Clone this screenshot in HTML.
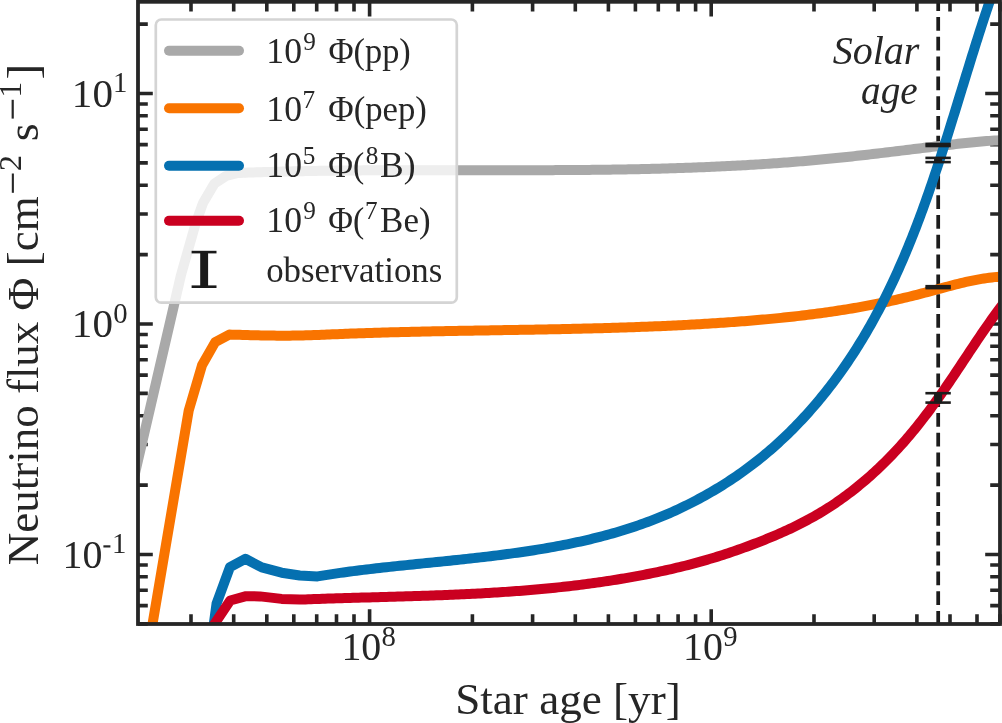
<!DOCTYPE html>
<html><head><meta charset="utf-8"><style>
html,body{margin:0;padding:0;background:#fff;}
svg{display:block;will-change:transform;}
text{font-family:"Liberation Serif",serif;fill:#262626;}
svg text{-webkit-font-smoothing:antialiased;}
</style></head><body>
<svg width="1002" height="723" viewBox="0 0 1002 723">
<defs><clipPath id="ax"><rect x="138" y="1.8" width="862" height="622.2"/></clipPath></defs>

<path d="M191.0,624.0 V614.2 M191.0,1.8 V11.6 M233.7,624.0 V614.2 M233.7,1.8 V11.6 M266.8,624.0 V614.2 M266.8,1.8 V11.6 M293.8,624.0 V614.2 M293.8,1.8 V11.6 M316.7,624.0 V614.2 M316.7,1.8 V11.6 M336.5,624.0 V614.2 M336.5,1.8 V11.6 M354.0,624.0 V614.2 M354.0,1.8 V11.6 M369.6,624.0 V609.2 M369.6,1.8 V16.6 M472.4,624.0 V614.2 M472.4,1.8 V11.6 M532.6,624.0 V614.2 M532.6,1.8 V11.6 M575.3,624.0 V614.2 M575.3,1.8 V11.6 M608.4,624.0 V614.2 M608.4,1.8 V11.6 M635.4,624.0 V614.2 M635.4,1.8 V11.6 M658.3,624.0 V614.2 M658.3,1.8 V11.6 M678.1,624.0 V614.2 M678.1,1.8 V11.6 M695.6,624.0 V614.2 M695.6,1.8 V11.6 M711.2,624.0 V609.2 M711.2,1.8 V16.6 M814.0,624.0 V614.2 M814.0,1.8 V11.6 M874.2,624.0 V614.2 M874.2,1.8 V11.6 M916.9,624.0 V614.2 M916.9,1.8 V11.6 M950.0,624.0 V614.2 M950.0,1.8 V11.6 M977.0,624.0 V614.2 M977.0,1.8 V11.6 M999.9,624.0 V614.2 M999.9,1.8 V11.6 M138.0,623.9 H147.8 M1000.0,623.9 H990.2 M138.0,605.6 H147.8 M1000.0,605.6 H990.2 M138.0,590.2 H147.8 M1000.0,590.2 H990.2 M138.0,576.8 H147.8 M1000.0,576.8 H990.2 M138.0,565.0 H147.8 M1000.0,565.0 H990.2 M138.0,554.5 H152.8 M1000.0,554.5 H985.2 M138.0,485.1 H147.8 M1000.0,485.1 H990.2 M138.0,444.5 H147.8 M1000.0,444.5 H990.2 M138.0,415.7 H147.8 M1000.0,415.7 H990.2 M138.0,393.4 H147.8 M1000.0,393.4 H990.2 M138.0,375.1 H147.8 M1000.0,375.1 H990.2 M138.0,359.7 H147.8 M1000.0,359.7 H990.2 M138.0,346.3 H147.8 M1000.0,346.3 H990.2 M138.0,334.5 H147.8 M1000.0,334.5 H990.2 M138.0,324.0 H152.8 M1000.0,324.0 H985.2 M138.0,254.6 H147.8 M1000.0,254.6 H990.2 M138.0,214.0 H147.8 M1000.0,214.0 H990.2 M138.0,185.2 H147.8 M1000.0,185.2 H990.2 M138.0,162.9 H147.8 M1000.0,162.9 H990.2 M138.0,144.6 H147.8 M1000.0,144.6 H990.2 M138.0,129.2 H147.8 M1000.0,129.2 H990.2 M138.0,115.8 H147.8 M1000.0,115.8 H990.2 M138.0,104.0 H147.8 M1000.0,104.0 H990.2 M138.0,93.5 H152.8 M1000.0,93.5 H985.2 M138.0,24.1 H147.8 M1000.0,24.1 H990.2" stroke="#262626" stroke-width="3.6" fill="none"/>
<g clip-path="url(#ax)" fill="none" stroke-linejoin="round">
<path d="M938.2,624.8 L938.2,0" stroke="#1c1c1c" stroke-width="3.74" stroke-dasharray="13.8 6.0"/>
<path d="M94.0,650.0 L181.0,275.0 L195.5,224.0 L203.0,203.0 L214.4,183.6 L226.0,176.0 L238.0,173.0 L240.60,172.90 L243.20,172.80 L245.81,172.71 L248.41,172.61 L251.01,172.52 L253.61,172.44 L256.22,172.35 L258.82,172.26 L261.42,172.18 L264.03,172.10 L266.63,172.03 L269.23,171.95 L271.83,171.88 L274.44,171.80 L277.04,171.73 L279.64,171.67 L282.25,171.60 L284.85,171.54 L287.45,171.47 L290.06,171.41 L292.66,171.36 L295.26,171.30 L297.87,171.24 L300.47,171.19 L303.07,171.14 L305.68,171.09 L308.28,171.04 L310.88,171.00 L313.49,170.95 L316.09,170.91 L318.69,170.87 L321.30,170.83 L323.90,170.79 L326.51,170.75 L329.11,170.71 L331.71,170.68 L334.32,170.65 L336.92,170.61 L339.52,170.58 L342.13,170.56 L344.73,170.53 L347.34,170.50 L349.94,170.48 L352.54,170.45 L355.15,170.43 L357.75,170.41 L360.35,170.39 L362.96,170.37 L365.56,170.35 L368.17,170.33 L370.77,170.32 L373.37,170.30 L375.98,170.29 L378.58,170.27 L381.19,170.26 L383.79,170.25 L386.39,170.24 L389.00,170.23 L391.60,170.22 L394.21,170.21 L396.81,170.20 L399.41,170.20 L402.02,170.19 L404.62,170.19 L407.23,170.18 L409.83,170.18 L412.43,170.17 L415.04,170.17 L417.64,170.17 L420.25,170.17 L422.85,170.16 L425.46,170.16 L428.06,170.16 L430.66,170.16 L433.27,170.16 L435.87,170.16 L438.48,170.16 L441.08,170.17 L443.68,170.17 L446.29,170.17 L448.89,170.17 L451.50,170.17 L454.10,170.18 L456.70,170.18 L459.31,170.18 L461.91,170.18 L464.51,170.19 L467.12,170.19 L469.72,170.19 L472.33,170.19 L474.93,170.20 L477.53,170.20 L480.14,170.20 L482.74,170.20 L485.35,170.21 L487.95,170.21 L490.55,170.21 L493.16,170.21 L495.76,170.21 L498.36,170.22 L500.97,170.22 L503.57,170.22 L506.17,170.22 L508.78,170.22 L511.38,170.22 L513.98,170.22 L516.59,170.21 L519.19,170.21 L521.79,170.21 L524.40,170.21 L527.00,170.20 L529.60,170.20 L532.21,170.19 L534.81,170.19 L537.41,170.18 L540.02,170.18 L542.62,170.17 L545.22,170.16 L547.83,170.15 L550.43,170.14 L553.03,170.13 L555.64,170.12 L558.24,170.11 L560.84,170.09 L563.44,170.08 L566.05,170.06 L568.65,170.05 L571.25,170.03 L573.85,170.01 L576.46,169.99 L579.06,169.97 L581.66,169.95 L584.26,169.93 L586.87,169.90 L589.47,169.88 L592.07,169.85 L594.67,169.82 L597.28,169.79 L599.88,169.76 L602.48,169.73 L605.08,169.70 L607.68,169.66 L610.29,169.63 L612.89,169.59 L615.49,169.55 L618.09,169.51 L620.69,169.47 L623.29,169.42 L625.90,169.38 L628.50,169.33 L631.10,169.28 L633.70,169.23 L636.30,169.18 L638.90,169.13 L641.50,169.07 L644.10,169.02 L646.70,168.96 L649.31,168.90 L651.91,168.84 L654.51,168.77 L657.11,168.71 L659.71,168.64 L662.31,168.57 L664.91,168.50 L667.51,168.42 L670.11,168.35 L672.71,168.27 L675.31,168.19 L677.91,168.11 L680.51,168.02 L683.11,167.94 L685.71,167.85 L688.31,167.76 L690.91,167.66 L693.51,167.57 L696.11,167.47 L698.71,167.37 L701.31,167.27 L703.91,167.16 L706.51,167.06 L709.11,166.95 L711.71,166.83 L714.30,166.72 L716.90,166.60 L719.50,166.48 L722.10,166.36 L724.70,166.24 L727.30,166.11 L729.90,165.98 L732.49,165.85 L735.09,165.71 L737.69,165.57 L740.29,165.43 L742.89,165.29 L745.48,165.14 L748.08,164.99 L750.68,164.84 L753.28,164.68 L755.88,164.53 L758.47,164.37 L761.07,164.20 L763.67,164.04 L766.26,163.87 L768.86,163.69 L771.46,163.52 L774.05,163.34 L776.65,163.16 L779.25,162.97 L781.84,162.78 L784.44,162.59 L787.04,162.40 L789.63,162.20 L792.23,162.00 L794.82,161.79 L797.42,161.58 L800.02,161.37 L802.61,161.16 L805.21,160.94 L807.80,160.72 L810.40,160.49 L812.99,160.26 L815.59,160.03 L818.18,159.80 L820.78,159.56 L823.37,159.31 L825.97,159.07 L828.56,158.82 L831.16,158.56 L833.75,158.31 L836.34,158.04 L838.94,157.78 L841.53,157.51 L844.13,157.24 L846.72,156.96 L849.31,156.69 L851.91,156.41 L854.50,156.12 L857.09,155.83 L859.68,155.54 L862.28,155.25 L864.87,154.96 L867.46,154.66 L870.05,154.36 L872.65,154.06 L875.24,153.76 L877.83,153.45 L880.42,153.15 L883.01,152.84 L885.61,152.53 L888.20,152.22 L890.79,151.91 L893.38,151.60 L895.97,151.28 L898.56,150.97 L901.15,150.65 L903.74,150.34 L906.33,150.02 L908.92,149.71 L911.51,149.39 L914.10,149.08 L916.69,148.76 L919.28,148.45 L921.87,148.13 L924.46,147.82 L927.05,147.50 L929.64,147.19 L932.23,146.88 L934.82,146.57 L937.41,146.26 L940.00,145.95 L942.59,145.64 L945.17,145.34 L947.76,145.03 L950.35,144.73 L952.94,144.43 L955.52,144.13 L958.11,143.84 L960.70,143.55 L963.29,143.26 L965.87,142.98 L968.46,142.71 L971.05,142.44 L973.63,142.18 L976.22,141.93 L978.81,141.70 L981.39,141.47 L983.98,141.26 L986.56,141.06 L989.15,140.87 L991.73,140.70 L994.32,140.55 L996.90,140.41 L999.49,140.29 L1002.07,140.19 L1004.66,140.10 L1007.24,140.04 L1009.83,140.00 L1012.41,139.99 L1015.00,139.99" stroke="#a9a9a9" stroke-width="10"/>
<path d="M148.1,650.0 L188.7,410.6 L202.0,365.3 L215.2,342.1 L229.3,334.6 L231.94,334.66 L234.57,334.72 L237.20,334.79 L239.84,334.86 L242.47,334.93 L245.11,335.00 L247.75,335.07 L250.38,335.14 L253.02,335.21 L255.65,335.27 L258.29,335.34 L260.93,335.39 L263.57,335.45 L266.20,335.50 L268.84,335.54 L271.48,335.58 L274.12,335.61 L276.76,335.64 L279.40,335.66 L282.04,335.67 L284.67,335.67 L287.31,335.66 L289.95,335.65 L292.59,335.62 L295.23,335.58 L297.87,335.54 L300.52,335.48 L303.16,335.41 L305.80,335.34 L308.44,335.26 L311.08,335.18 L313.72,335.09 L316.36,334.99 L319.01,334.89 L321.65,334.79 L324.29,334.68 L326.93,334.58 L329.58,334.47 L332.22,334.36 L334.86,334.25 L337.50,334.14 L340.15,334.03 L342.79,333.93 L345.44,333.82 L348.08,333.72 L350.72,333.62 L353.37,333.53 L356.01,333.43 L358.66,333.34 L361.30,333.25 L363.95,333.16 L366.59,333.07 L369.23,332.98 L371.88,332.90 L374.53,332.82 L377.17,332.74 L379.82,332.66 L382.46,332.58 L385.11,332.50 L387.75,332.43 L390.40,332.36 L393.04,332.29 L395.69,332.22 L398.34,332.15 L400.98,332.08 L403.63,332.01 L406.27,331.95 L408.92,331.89 L411.57,331.82 L414.21,331.76 L416.86,331.70 L419.51,331.64 L422.15,331.59 L424.80,331.53 L427.45,331.47 L430.09,331.42 L432.74,331.37 L435.39,331.31 L438.03,331.26 L440.68,331.21 L443.33,331.16 L445.98,331.11 L448.62,331.06 L451.27,331.01 L453.92,330.96 L456.56,330.92 L459.21,330.87 L461.86,330.82 L464.50,330.78 L467.15,330.73 L469.80,330.69 L472.45,330.64 L475.09,330.60 L477.74,330.55 L480.39,330.51 L483.03,330.47 L485.68,330.42 L488.33,330.38 L490.97,330.34 L493.62,330.29 L496.27,330.25 L498.91,330.21 L501.56,330.16 L504.21,330.12 L506.85,330.08 L509.50,330.04 L512.15,329.99 L514.79,329.95 L517.44,329.90 L520.09,329.86 L522.73,329.81 L525.38,329.77 L528.02,329.72 L530.67,329.68 L533.32,329.63 L535.96,329.59 L538.61,329.54 L541.25,329.49 L543.90,329.44 L546.54,329.39 L549.19,329.34 L551.83,329.29 L554.48,329.24 L557.12,329.19 L559.77,329.13 L562.41,329.08 L565.06,329.03 L567.70,328.97 L570.34,328.91 L572.99,328.85 L575.63,328.80 L578.28,328.74 L580.92,328.67 L583.56,328.61 L586.21,328.55 L588.85,328.48 L591.49,328.42 L594.14,328.35 L596.78,328.28 L599.42,328.21 L602.06,328.14 L604.70,328.07 L607.35,327.99 L609.99,327.92 L612.63,327.84 L615.27,327.76 L617.91,327.68 L620.55,327.59 L623.19,327.51 L625.83,327.42 L628.47,327.34 L631.11,327.25 L633.75,327.16 L636.39,327.06 L639.03,326.97 L641.67,326.87 L644.31,326.77 L646.95,326.67 L649.59,326.56 L652.23,326.46 L654.86,326.35 L657.50,326.24 L660.14,326.13 L662.78,326.01 L665.41,325.90 L668.05,325.78 L670.69,325.66 L673.32,325.53 L675.96,325.41 L678.59,325.28 L681.23,325.15 L683.86,325.01 L686.50,324.88 L689.13,324.74 L691.77,324.60 L694.40,324.45 L697.03,324.30 L699.67,324.15 L702.30,324.00 L704.93,323.84 L707.56,323.69 L710.20,323.52 L712.83,323.36 L715.46,323.19 L718.09,323.02 L720.72,322.85 L723.35,322.67 L725.98,322.49 L728.61,322.31 L731.24,322.12 L733.87,321.93 L736.50,321.74 L739.13,321.54 L741.75,321.34 L744.38,321.14 L747.01,320.93 L749.64,320.72 L752.26,320.51 L754.89,320.29 L757.51,320.06 L760.14,319.84 L762.76,319.60 L765.39,319.37 L768.01,319.13 L770.64,318.88 L773.26,318.63 L775.88,318.38 L778.50,318.12 L781.13,317.85 L783.75,317.58 L786.37,317.31 L788.99,317.03 L791.61,316.74 L794.23,316.45 L796.85,316.15 L799.47,315.85 L802.09,315.54 L804.70,315.23 L807.32,314.91 L809.94,314.58 L812.56,314.25 L815.17,313.91 L817.79,313.56 L820.40,313.21 L823.02,312.85 L825.63,312.49 L828.25,312.12 L830.86,311.74 L833.47,311.35 L836.09,310.96 L838.70,310.56 L841.31,310.16 L843.92,309.74 L846.53,309.32 L849.14,308.89 L851.75,308.46 L854.36,308.01 L856.97,307.56 L859.58,307.10 L862.18,306.63 L864.79,306.16 L867.40,305.67 L870.00,305.18 L872.61,304.68 L875.21,304.17 L877.82,303.65 L880.42,303.13 L883.03,302.59 L885.63,302.05 L888.23,301.49 L890.83,300.93 L893.43,300.36 L896.03,299.78 L898.63,299.19 L901.23,298.59 L903.83,297.98 L906.43,297.37 L909.03,296.74 L911.62,296.10 L914.22,295.45 L916.82,294.80 L919.41,294.13 L922.01,293.45 L924.60,292.77 L927.19,292.07 L929.79,291.37 L932.38,290.67 L934.97,289.97 L937.56,289.26 L940.15,288.56 L942.74,287.86 L945.33,287.16 L947.92,286.47 L950.51,285.79 L953.10,285.12 L955.68,284.46 L958.27,283.82 L960.85,283.19 L963.44,282.57 L966.02,281.98 L968.61,281.40 L971.19,280.85 L973.77,280.32 L976.35,279.82 L978.93,279.34 L981.51,278.90 L984.09,278.48 L986.67,278.10 L989.25,277.75 L991.83,277.43 L994.40,277.15 L996.98,276.92 L999.55,276.72 L1002.13,276.57 L1004.70,276.46 L1007.27,276.39 L1009.85,276.38 L1012.42,276.41 L1014.99,276.50" stroke="#f97400" stroke-width="10"/>
<path d="M211.0,650.0 L213.8,624.0 L216.5,603.8 L230.0,567.1 L245.3,558.8 L261.8,567.4 L281.6,572.7 L299.8,575.5 L317.5,576.4 L320.73,575.86 L323.95,575.34 L327.18,574.83 L330.42,574.34 L333.66,573.85 L336.91,573.38 L340.17,572.91 L343.43,572.46 L346.70,572.01 L349.97,571.57 L353.25,571.14 L356.54,570.72 L359.83,570.31 L363.12,569.90 L366.42,569.50 L369.73,569.10 L373.04,568.72 L376.35,568.33 L379.67,567.96 L382.99,567.59 L386.31,567.22 L389.64,566.86 L392.97,566.50 L396.31,566.14 L399.65,565.79 L402.99,565.44 L406.34,565.10 L409.68,564.75 L413.03,564.41 L416.39,564.07 L419.74,563.73 L423.10,563.39 L426.46,563.05 L429.82,562.71 L433.18,562.37 L436.55,562.03 L439.91,561.69 L443.28,561.35 L446.64,561.00 L450.01,560.66 L453.38,560.31 L456.75,559.96 L460.12,559.60 L463.49,559.24 L466.86,558.88 L470.23,558.51 L473.60,558.14 L476.97,557.76 L480.34,557.37 L483.71,556.99 L487.07,556.59 L490.44,556.19 L493.80,555.78 L497.17,555.36 L500.53,554.94 L503.89,554.51 L507.25,554.07 L510.60,553.62 L513.95,553.16 L517.31,552.69 L520.65,552.21 L524.00,551.73 L527.34,551.23 L530.68,550.72 L534.02,550.20 L537.35,549.66 L540.68,549.12 L544.01,548.56 L547.33,547.99 L550.65,547.41 L553.97,546.81 L557.28,546.20 L560.58,545.58 L563.88,544.94 L567.18,544.29 L570.47,543.62 L573.76,542.93 L577.04,542.23 L580.31,541.51 L583.58,540.78 L586.85,540.03 L590.11,539.26 L593.36,538.47 L596.61,537.67 L599.85,536.84 L603.08,536.00 L606.31,535.14 L609.53,534.26 L612.74,533.36 L615.94,532.43 L619.14,531.49 L622.33,530.53 L625.52,529.54 L628.69,528.53 L631.86,527.50 L635.02,526.45 L638.17,525.38 L641.31,524.28 L644.44,523.16 L647.57,522.01 L650.68,520.84 L653.79,519.65 L656.89,518.43 L659.98,517.18 L663.06,515.91 L666.12,514.62 L669.18,513.30 L672.23,511.96 L675.27,510.59 L678.29,509.20 L681.31,507.78 L684.31,506.34 L687.30,504.87 L690.28,503.38 L693.25,501.87 L696.20,500.33 L699.15,498.77 L702.08,497.18 L704.99,495.57 L707.90,493.94 L710.79,492.28 L713.66,490.60 L716.52,488.90 L719.37,487.17 L722.21,485.41 L725.03,483.64 L727.83,481.84 L730.62,480.01 L733.39,478.16 L736.15,476.29 L738.89,474.40 L741.62,472.48 L744.33,470.54 L747.02,468.57 L749.70,466.58 L752.36,464.57 L755.00,462.54 L757.63,460.48 L760.23,458.40 L762.82,456.30 L765.39,454.17 L767.95,452.02 L770.48,449.85 L773.00,447.65 L775.50,445.44 L777.98,443.20 L780.44,440.94 L782.89,438.66 L785.31,436.36 L787.72,434.04 L790.11,431.70 L792.48,429.34 L794.84,426.97 L797.17,424.57 L799.49,422.15 L801.79,419.72 L804.06,417.26 L806.33,414.79 L808.57,412.30 L810.79,409.80 L813.00,407.28 L815.19,404.74 L817.35,402.18 L819.50,399.61 L821.63,397.02 L823.75,394.42 L825.84,391.80 L827.92,389.17 L829.97,386.52 L832.01,383.86 L834.03,381.19 L836.03,378.50 L838.01,375.79 L839.98,373.08 L841.92,370.35 L843.84,367.61 L845.75,364.86 L847.64,362.09 L849.51,359.32 L851.36,356.53 L853.19,353.73 L855.00,350.92 L856.79,348.10 L858.57,345.27 L860.32,342.43 L862.06,339.58 L863.78,336.72 L865.49,333.85 L867.17,330.96 L868.84,328.07 L870.50,325.17 L872.13,322.26 L873.75,319.34 L875.36,316.41 L876.94,313.48 L878.52,310.53 L880.07,307.57 L881.61,304.61 L883.14,301.64 L884.65,298.65 L886.14,295.67 L887.62,292.67 L889.09,289.66 L890.54,286.65 L891.98,283.63 L893.40,280.60 L894.81,277.57 L896.20,274.52 L897.59,271.47 L898.96,268.42 L900.31,265.35 L901.66,262.28 L902.99,259.21 L904.31,256.13 L905.61,253.04 L906.91,249.94 L908.19,246.84 L909.46,243.73 L910.72,240.62 L911.97,237.50 L913.21,234.38 L914.44,231.25 L915.66,228.12 L916.86,224.98 L918.06,221.84 L919.25,218.69 L920.42,215.54 L921.59,212.38 L922.75,209.22 L923.90,206.06 L925.04,202.89 L926.17,199.71 L927.30,196.54 L928.41,193.36 L929.52,190.18 L930.62,186.99 L931.72,183.80 L932.80,180.61 L933.88,177.41 L934.96,174.22 L936.02,171.02 L937.09,167.81 L938.14,164.61 L939.19,161.40 L940.24,158.19 L941.28,154.98 L942.31,151.77 L943.34,148.56 L944.37,145.34 L945.39,142.13 L946.41,138.91 L947.43,135.69 L948.44,132.47 L949.45,129.25 L950.45,126.03 L951.45,122.81 L952.45,119.59 L953.45,116.37 L954.45,113.15 L955.44,109.93 L956.43,106.71 L957.42,103.49 L958.41,100.27 L959.40,97.05 L960.39,93.84 L961.37,90.62 L962.36,87.40 L963.34,84.19 L964.33,80.98 L965.32,77.77 L966.30,74.56 L967.29,71.35 L968.28,68.15 L969.27,64.95 L970.26,61.75 L971.25,58.55 L972.24,55.35 L973.24,52.16 L974.24,48.97 L975.24,45.78 L976.24,42.60 L977.25,39.42 L978.26,36.24 L979.27,33.07 L980.29,29.90 L981.31,26.74 L982.33,23.58 L983.36,20.42 L984.39,17.27 L985.43,14.12 L986.47,10.98 L987.52,7.84 L988.57,4.70 L989.63,1.58 L990.69,-1.55 L991.76,-4.67 L992.84,-7.78 L993.92,-10.88 L995.01,-13.99" stroke="#0570b0" stroke-width="10"/>
<path d="M197.0,650.0 L216.1,621.5 L230.2,600.5 L246.1,596.2 L260.0,596.4 L281.6,598.9 L299.8,599.6 L302.61,599.49 L305.42,599.39 L308.23,599.28 L311.04,599.18 L313.85,599.08 L316.65,598.98 L319.46,598.89 L322.26,598.79 L325.06,598.70 L327.87,598.61 L330.67,598.52 L333.46,598.43 L336.26,598.35 L339.06,598.26 L341.85,598.18 L344.65,598.09 L347.44,598.01 L350.23,597.93 L353.02,597.85 L355.81,597.77 L358.60,597.69 L361.39,597.62 L364.18,597.54 L366.96,597.46 L369.75,597.39 L372.53,597.31 L375.31,597.23 L378.10,597.15 L380.88,597.08 L383.66,597.00 L386.44,596.92 L389.22,596.84 L392.00,596.77 L394.77,596.69 L397.55,596.61 L400.33,596.53 L403.10,596.44 L405.87,596.36 L408.65,596.28 L411.42,596.19 L414.19,596.11 L416.97,596.02 L419.74,595.93 L422.51,595.84 L425.28,595.75 L428.05,595.65 L430.82,595.56 L433.58,595.46 L436.35,595.36 L439.12,595.25 L441.89,595.15 L444.65,595.04 L447.42,594.93 L450.19,594.82 L452.95,594.70 L455.72,594.59 L458.48,594.47 L461.25,594.34 L464.01,594.22 L466.77,594.09 L469.54,593.95 L472.30,593.82 L475.06,593.68 L477.83,593.53 L480.59,593.39 L483.35,593.24 L486.11,593.08 L488.88,592.92 L491.64,592.76 L494.40,592.59 L497.16,592.42 L499.92,592.25 L502.68,592.07 L505.45,591.88 L508.21,591.69 L510.97,591.50 L513.73,591.30 L516.49,591.10 L519.26,590.89 L522.02,590.68 L524.78,590.46 L527.54,590.23 L530.30,590.00 L533.07,589.77 L535.83,589.53 L538.59,589.28 L541.36,589.03 L544.12,588.77 L546.88,588.51 L549.65,588.24 L552.41,587.96 L555.18,587.68 L557.94,587.39 L560.71,587.10 L563.47,586.80 L566.24,586.49 L569.00,586.17 L571.77,585.85 L574.54,585.52 L577.31,585.19 L580.07,584.85 L582.84,584.50 L585.61,584.14 L588.38,583.77 L591.15,583.40 L593.92,583.02 L596.69,582.63 L599.47,582.24 L602.24,581.83 L605.01,581.42 L607.79,581.00 L610.56,580.58 L613.33,580.14 L616.11,579.70 L618.88,579.24 L621.66,578.78 L624.43,578.32 L627.20,577.84 L629.97,577.35 L632.74,576.86 L635.51,576.36 L638.28,575.85 L641.05,575.33 L643.82,574.80 L646.58,574.26 L649.34,573.72 L652.10,573.16 L654.86,572.60 L657.62,572.03 L660.38,571.44 L663.13,570.85 L665.88,570.25 L668.63,569.64 L671.37,569.02 L674.11,568.38 L676.85,567.74 L679.59,567.08 L682.32,566.42 L685.05,565.74 L687.78,565.05 L690.50,564.34 L693.22,563.63 L695.93,562.90 L698.64,562.16 L701.35,561.40 L704.05,560.63 L706.75,559.85 L709.44,559.06 L712.13,558.25 L714.81,557.43 L717.49,556.60 L720.16,555.76 L722.83,554.90 L725.49,554.04 L728.15,553.16 L730.80,552.27 L733.44,551.37 L736.08,550.46 L738.72,549.54 L741.34,548.60 L743.96,547.66 L746.58,546.71 L749.19,545.75 L751.79,544.78 L754.38,543.80 L756.97,542.81 L759.55,541.81 L762.12,540.80 L764.68,539.78 L767.24,538.74 L769.79,537.70 L772.33,536.64 L774.86,535.57 L777.39,534.49 L779.91,533.39 L782.42,532.28 L784.92,531.15 L787.41,530.01 L789.89,528.85 L792.37,527.67 L794.83,526.48 L797.29,525.28 L799.73,524.05 L802.17,522.81 L804.60,521.55 L807.01,520.27 L809.42,518.97 L811.82,517.65 L814.21,516.31 L816.59,514.95 L818.95,513.57 L821.31,512.17 L823.65,510.74 L825.99,509.30 L828.31,507.83 L830.63,506.34 L832.93,504.82 L835.22,503.28 L837.50,501.72 L839.77,500.14 L842.02,498.54 L844.27,496.92 L846.50,495.27 L848.72,493.61 L850.93,491.92 L853.13,490.22 L855.31,488.49 L857.48,486.75 L859.64,484.98 L861.79,483.20 L863.93,481.40 L866.05,479.59 L868.16,477.75 L870.26,475.90 L872.34,474.03 L874.41,472.14 L876.47,470.24 L878.51,468.32 L880.54,466.39 L882.56,464.44 L884.56,462.47 L886.55,460.49 L888.53,458.50 L890.49,456.49 L892.44,454.47 L894.37,452.43 L896.29,450.39 L898.20,448.33 L900.09,446.25 L901.97,444.17 L903.83,442.07 L905.68,439.96 L907.51,437.84 L909.33,435.71 L911.13,433.56 L912.92,431.41 L914.69,429.25 L916.46,427.08 L918.20,424.90 L919.94,422.71 L921.66,420.51 L923.37,418.30 L925.06,416.08 L926.75,413.86 L928.42,411.63 L930.09,409.39 L931.74,407.15 L933.38,404.90 L935.02,402.64 L936.64,400.38 L938.26,398.11 L939.86,395.84 L941.46,393.56 L943.05,391.27 L944.64,388.99 L946.22,386.70 L947.79,384.40 L949.35,382.10 L950.91,379.80 L952.46,377.50 L954.01,375.19 L955.56,372.88 L957.10,370.57 L958.64,368.26 L960.17,365.95 L961.71,363.64 L963.24,361.33 L964.77,359.01 L966.30,356.70 L967.83,354.39 L969.37,352.08 L970.90,349.77 L972.44,347.46 L973.97,345.15 L975.52,342.84 L977.06,340.54 L978.61,338.24 L980.17,335.95 L981.73,333.65 L983.29,331.36 L984.87,329.08 L986.45,326.80 L988.04,324.52 L989.63,322.25 L991.24,319.98 L992.85,317.72 L994.48,315.47 L996.12,313.22 L997.76,310.98 L999.42,308.74 L1001.10,306.52 L1002.78,304.30 L1004.48,302.09 L1006.19,299.88 L1007.92,297.69 L1009.67,295.50 L1011.43,293.32 L1013.20,291.16 L1015.00,289.00" stroke="#ca0020" stroke-width="10"/>
<rect x="934.1" y="144.0" width="8" height="2.0" fill="#1c1c1c" stroke="none"/><rect x="925.4" y="144.7" width="25.4" height="2.6" fill="#1c1c1c" stroke="none"/><rect x="925.4" y="142.7" width="25.4" height="2.6" fill="#1c1c1c" stroke="none"/>
<rect x="934.1" y="157.9" width="8" height="4.2" fill="#1c1c1c" stroke="none"/><rect x="925.4" y="160.8" width="25.4" height="2.6" fill="#1c1c1c" stroke="none"/><rect x="925.4" y="156.6" width="25.4" height="2.6" fill="#1c1c1c" stroke="none"/>
<rect x="934.1" y="286.2" width="8" height="1.9" fill="#1c1c1c" stroke="none"/><rect x="925.4" y="286.8" width="25.4" height="2.6" fill="#1c1c1c" stroke="none"/><rect x="925.4" y="284.9" width="25.4" height="2.6" fill="#1c1c1c" stroke="none"/>
<rect x="934.1" y="393.2" width="8" height="9.4" fill="#1c1c1c" stroke="none"/><rect x="925.4" y="401.3" width="25.4" height="2.6" fill="#1c1c1c" stroke="none"/><rect x="925.4" y="391.9" width="25.4" height="2.6" fill="#1c1c1c" stroke="none"/>
</g>
<rect x="138.0" y="1.8" width="862.0" height="622.2" fill="none" stroke="#262626" stroke-width="3.8" stroke-linejoin="miter"/>
<text x="832.63" y="63.60" font-size="40" font-style="italic" textLength="86.75" lengthAdjust="spacingAndGlyphs">Solar</text>
<text x="861.03" y="103.60" font-size="40" font-style="italic" textLength="56.65" lengthAdjust="spacingAndGlyphs">age</text>
<rect x="155.8" y="19.5" width="301" height="283.2" rx="5.5" ry="5.5" fill="#fff" fill-opacity="0.8" stroke="#d4d4d4" stroke-width="2.7"/>
<line x1="169" y1="50.7" x2="239" y2="50.7" stroke="#a9a9a9" stroke-width="10" stroke-linecap="round"/>
<line x1="169" y1="108.2" x2="239" y2="108.2" stroke="#f97400" stroke-width="10" stroke-linecap="round"/>
<line x1="169" y1="165.8" x2="239" y2="165.8" stroke="#0570b0" stroke-width="10" stroke-linecap="round"/>
<line x1="169" y1="220.8" x2="239" y2="220.8" stroke="#ca0020" stroke-width="10" stroke-linecap="round"/>
<rect x="200.2" y="252" width="7.9" height="35" fill="#1a1a1a"/>
<rect x="191.6" y="250.8" width="24.9" height="2.6" fill="#1a1a1a"/>
<rect x="191.6" y="285.4" width="24.9" height="2.6" fill="#1a1a1a"/>
<text x="266.37" y="63.00" font-size="36.0" textLength="35.58" lengthAdjust="spacingAndGlyphs">10</text>
<text x="303.29" y="50.25" font-size="25.2">9</text>
<text x="328.46" y="63.00" font-size="36.0" textLength="82.35" lengthAdjust="spacingAndGlyphs">Φ(pp)</text>
<text x="266.37" y="120.50" font-size="36.0" textLength="35.58" lengthAdjust="spacingAndGlyphs">10</text>
<text x="302.44" y="108.00" font-size="25.2">7</text>
<text x="328.25" y="120.50" font-size="36.0" textLength="98.68" lengthAdjust="spacingAndGlyphs">Φ(pep)</text>
<text x="266.37" y="176.80" font-size="36.0" textLength="35.58" lengthAdjust="spacingAndGlyphs">10</text>
<text x="302.64" y="164.05" font-size="25.2">5</text>
<text x="328.28" y="176.80" font-size="36.0" textLength="35.91" lengthAdjust="spacingAndGlyphs">Φ(</text>
<text x="365.74" y="164.05" font-size="25.2">8</text>
<text x="380.08" y="176.80" font-size="36.0" textLength="35.48" lengthAdjust="spacingAndGlyphs">B)</text>
<text x="266.37" y="231.80" font-size="36.0" textLength="35.58" lengthAdjust="spacingAndGlyphs">10</text>
<text x="303.29" y="219.05" font-size="25.2">9</text>
<text x="328.28" y="231.80" font-size="36.0" textLength="35.91" lengthAdjust="spacingAndGlyphs">Φ(</text>
<text x="365.04" y="219.30" font-size="25.2">7</text>
<text x="380.09" y="231.80" font-size="36.0" textLength="50.44" lengthAdjust="spacingAndGlyphs">Be)</text>
<text x="266.17" y="281.50" font-size="36.0" textLength="176.19" lengthAdjust="spacingAndGlyphs">observations</text>
<text x="341.39" y="660.20" font-size="41.0" textLength="39.93" lengthAdjust="spacingAndGlyphs">10</text><text x="381.41" y="645.72" font-size="28.7">8</text>
<text x="683.10" y="660.20" font-size="41.0" textLength="39.82" lengthAdjust="spacingAndGlyphs">10</text><text x="723.28" y="646.12" font-size="28.7">9</text>
<text x="71.89" y="106.90" font-size="41.0" textLength="41.07" lengthAdjust="spacingAndGlyphs">10</text><text x="112.88" y="92.10" font-size="28.7">1</text>
<text x="71.89" y="337.40" font-size="41.0" textLength="41.07" lengthAdjust="spacingAndGlyphs">10</text><text x="113.31" y="322.62" font-size="28.7">0</text>
<text x="62.49" y="567.90" font-size="41.0" textLength="39.93" lengthAdjust="spacingAndGlyphs">10</text>
<rect x="103.4" y="545.3" width="7" height="2.2" fill="#262626"/>
<text x="111.88" y="553.40" font-size="28.7">1</text>
<text x="455.18" y="713.80" font-size="45" textLength="225.57" lengthAdjust="spacingAndGlyphs">Star age [yr]</text>
<text transform="translate(38.2,565.0) rotate(-90)" x="-0.20" y="0.00" font-size="45" textLength="368.80" lengthAdjust="spacingAndGlyphs">Neutrino flux Φ [cm</text>
<text transform="translate(38.2,565.0) rotate(-90)" x="393.76" y="-17.00" font-size="31.5" textLength="16.34" lengthAdjust="spacingAndGlyphs">2</text>
<text transform="translate(38.2,565.0) rotate(-90)" x="423.82" y="0.00" font-size="45" textLength="17.84" lengthAdjust="spacingAndGlyphs">s</text>
<text transform="translate(38.2,565.0) rotate(-90)" x="467.45" y="-17.20" font-size="31.5" textLength="15.62" lengthAdjust="spacingAndGlyphs">1</text>
<text transform="translate(38.2,565.0) rotate(-90)" x="485.60" y="0.00" font-size="45" textLength="15.70" lengthAdjust="spacingAndGlyphs">]</text>
<rect x="11.8" y="173.5" width="2.1" height="19.3" fill="#262626"/>
<rect x="11.6" y="99.8" width="2.2" height="18.8" fill="#262626"/>
</svg></body></html>
